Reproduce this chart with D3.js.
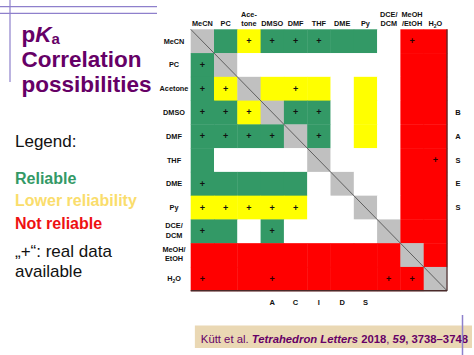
<!DOCTYPE html>
<html><head><meta charset="utf-8">
<script src="https://cdn.jsdelivr.net/npm/d3@7"></script>
<style>body{margin:0;background:#fff} svg{display:block;font-family:"Liberation Sans",Arial,sans-serif}</style>
</head><body><svg id="c" width="474" height="355"></svg>
<script>
// ---- data ----
const solvents = ["MeCN","PC","Acetone","DMSO","DMF","THF","DME","Py","DCE/DCM","MeOH/EtOH","H2O"];
const colLabels = [["MeCN"],["PC"],["Ace-","tone"],["DMSO"],["DMF"],["THF"],["DME"],["Py"],["DCE/","DCM"],["MeOH","/EtOH"],["H2O"]];
const rowLabels = [["MeCN"],["PC"],["Acetone"],["DMSO"],["DMF"],["THF"],["DME"],["Py"],["DCE/","DCM"],["MeOH/","EtOH"],["H2O"]];
// G = reliable, Y = lower reliability, R = not reliable, X = same solvent, W = no data
const reliability = [
  "XGYGGGGGWRR",
  "GXWWWWWWWRR",
  "GYXYYYWYWRR",
  "GGYXGGWYWRR",
  "GGGGXGWYWRR",
  "GWWWWXWWWRR",
  "GGGGGWXWWRR",
  "YYYYYWWXWRR",
  "GGWGWWWWXRR",
  "RRRRRRRRRXR",
  "RRRRRRRRRRX"
];
// 1 = real data available ("+")
const realData = [
  "00111100010",
  "10000000000",
  "11001000000",
  "11101100000",
  "11110100000",
  "00000000001",
  "10000000000",
  "11111000000",
  "10010000000",
  "00000000000",
  "10010000110"
];
const basesLetters = ["B","A","S","E","S"];
const acidsLetters = ["A","C","I","D","S"];
const basesRows = ["DMSO","DMF","THF","DME","Py"];
const acidsCols = ["DMSO","DMF","THF","DME","Py"];
const legendItems = [
  {label:"Reliable", code:"G"},
  {label:"Lower reliability", code:"Y"},
  {label:"Not reliable", code:"R"}
];

// ---- styles ----
const fill = {G:"#339966", Y:"#ffff00", R:"#ff0000", X:"#c0c0c0", W:"#ffffff"};
const legendColor = {G:"#339966", Y:"#fadd6c", R:"#ee1111"};
const purple = "#660066";
const lav = "#8e80cc";

const svg = d3.select("#c");
const x = d3.scaleBand().domain(solvents).range([190.7, 447]);
const y = d3.scaleBand().domain(solvents).range([29.3, 290.7]);

// decorative lines
svg.append("line").attr("x1",0).attr("x2",157).attr("y1",6.7).attr("y2",6.7).attr("stroke",lav).attr("stroke-width",1.2);
svg.append("line").attr("x1",0).attr("x2",157).attr("y1",13.3).attr("y2",13.3).attr("stroke",lav).attr("stroke-width",1.2);
svg.append("line").attr("x1",10).attr("x2",10).attr("y1",0).attr("y2",82).attr("stroke",lav).attr("stroke-width",1.2);

// cells
const cells = [];
reliability.forEach((row,i)=>row.split("").forEach((c,j)=>cells.push({r:solvents[i],c:solvents[j],code:c,plus:realData[i][j]==="1"})));
svg.append("g").selectAll("rect").data(cells).join("rect")
  .attr("x",d=>x(d.c)).attr("y",d=>y(d.r))
  .attr("width",x.bandwidth()+0.4).attr("height",y.bandwidth()+0.4)
  .attr("fill",d=>fill[d.code]);
svg.append("g").selectAll("text").data(cells.filter(d=>d.plus)).join("text")
  .attr("x",d=>x(d.c)+x.bandwidth()/2).attr("y",d=>y(d.r)+y.bandwidth()/2+3)
  .attr("text-anchor","middle").attr("font-size",9).attr("font-weight","bold")
  .attr("fill",d=>d.code==="R"?"#2a0000":"#111").text("+");

// diagonal and borders
const [x0,x1]=x.range(), [y0,y1]=y.range();
svg.append("line").attr("x1",x0).attr("y1",y0).attr("x2",x1).attr("y2",y1).attr("stroke","#555").attr("stroke-width",0.9);
svg.append("line").attr("x1",x0).attr("y1",y1).attr("x2",x1).attr("y2",y1).attr("stroke","#4a2a2a").attr("stroke-width",1.5);
svg.append("line").attr("x1",x1).attr("y1",y0).attr("x2",x1).attr("y2",y1).attr("stroke","#4a2a2a").attr("stroke-width",1.2);

function writeLabel(t, s){
  if(s==="H2O"){
    t.append("tspan").text("H");
    t.append("tspan").text("2").attr("font-size",5).attr("dy",1.5);
    t.append("tspan").text("O").attr("dy",-1.5);
  } else t.text(s);
}
// column headers
colLabels.forEach((lines,j)=>{
  const cx = x(solvents[j])+x.bandwidth()/2;
  lines.forEach((s,k)=>{
    const t = svg.append("text").attr("x",cx).attr("y",26 - (lines.length-1-k)*9.5)
      .attr("text-anchor","middle").attr("font-size",7.3).attr("font-weight","bold").attr("fill","#111");
    writeLabel(t,s);
  });
});
// row labels
rowLabels.forEach((lines,i)=>{
  const cy = y(solvents[i])+y.bandwidth()/2;
  lines.forEach((s,k)=>{
    const yy = lines.length===1 ? cy+2.5 : cy-3.2+k*9.5;
    const t = svg.append("text").attr("x",174).attr("y",yy)
      .attr("text-anchor","middle").attr("font-size",7.3).attr("font-weight","bold").attr("fill","#111");
    writeLabel(t,s);
  });
});
// BASES / ACIDS
svg.append("g").selectAll("text").data(basesLetters).join("text")
  .attr("x",458).attr("y",(d,i)=>y(basesRows[i])+y.bandwidth()/2+2.6)
  .attr("text-anchor","middle").attr("font-size",7.5).attr("font-weight","bold").attr("fill","#111").text(d=>d);
svg.append("g").selectAll("text").data(acidsLetters).join("text")
  .attr("x",(d,i)=>x(acidsCols[i])+x.bandwidth()/2).attr("y",304.7)
  .attr("text-anchor","middle").attr("font-size",7.5).attr("font-weight","bold").attr("fill","#111").text(d=>d);

// title
const t1 = svg.append("text").attr("x",21.5).attr("y",41.7).attr("font-size",22.5).attr("font-weight","bold").attr("fill",purple);
t1.append("tspan").text("p");
t1.append("tspan").text("K").attr("font-style","italic");
t1.append("tspan").text("a").attr("font-size",15).attr("dy",2.5);
svg.append("text").attr("x",21.5).attr("y",66.7).attr("font-size",22.5).attr("font-weight","bold").attr("fill",purple).text("Correlation");
svg.append("text").attr("x",21.5).attr("y",91.7).attr("font-size",22.5).attr("font-weight","bold").attr("fill",purple).text("possibilities");

// legend
svg.append("text").attr("x",15).attr("y",146.7).attr("font-size",17).attr("fill","#111").text("Legend:");
const ly = [184, 206, 229.3];
svg.append("g").selectAll("text").data(legendItems).join("text")
  .attr("x",15).attr("y",(d,i)=>ly[i]).attr("font-size",16).attr("font-weight","bold")
  .attr("fill",d=>legendColor[d.code]).text(d=>d.label);
svg.append("text").attr("x",15).attr("y",256.7).attr("font-size",17).attr("fill","#111").text("\u201e+\u201c: real data");
svg.append("text").attr("x",15).attr("y",277.3).attr("font-size",17).attr("fill","#111").text("available");

// citation
const cg = svg.append("g");
const box = cg.append("rect").attr("fill","#ead8b4");
const ct = cg.append("text").attr("x",468).attr("y",343).attr("text-anchor","end").attr("font-size",11.3).attr("fill",purple);
ct.append("tspan").text("K\u00fctt et al. ");
ct.append("tspan").text("Tetrahedron Letters").attr("font-style","italic").attr("font-weight","bold");
ct.append("tspan").text(" 2018").attr("font-weight","bold");
ct.append("tspan").text(", ");
ct.append("tspan").text("59").attr("font-style","italic").attr("font-weight","bold");
ct.append("tspan").text(", 3738\u20133748").attr("font-weight","bold");
const bb = ct.node().getBBox();
box.attr("x",bb.x-6).attr("y",325.5).attr("width",474-(bb.x-6)-2).attr("height",22.5);
svg.append("line").attr("x1",462.5).attr("x2",462.5).attr("y1",315).attr("y2",355).attr("stroke",lav).attr("stroke-width",1.5);
</script></body></html>
